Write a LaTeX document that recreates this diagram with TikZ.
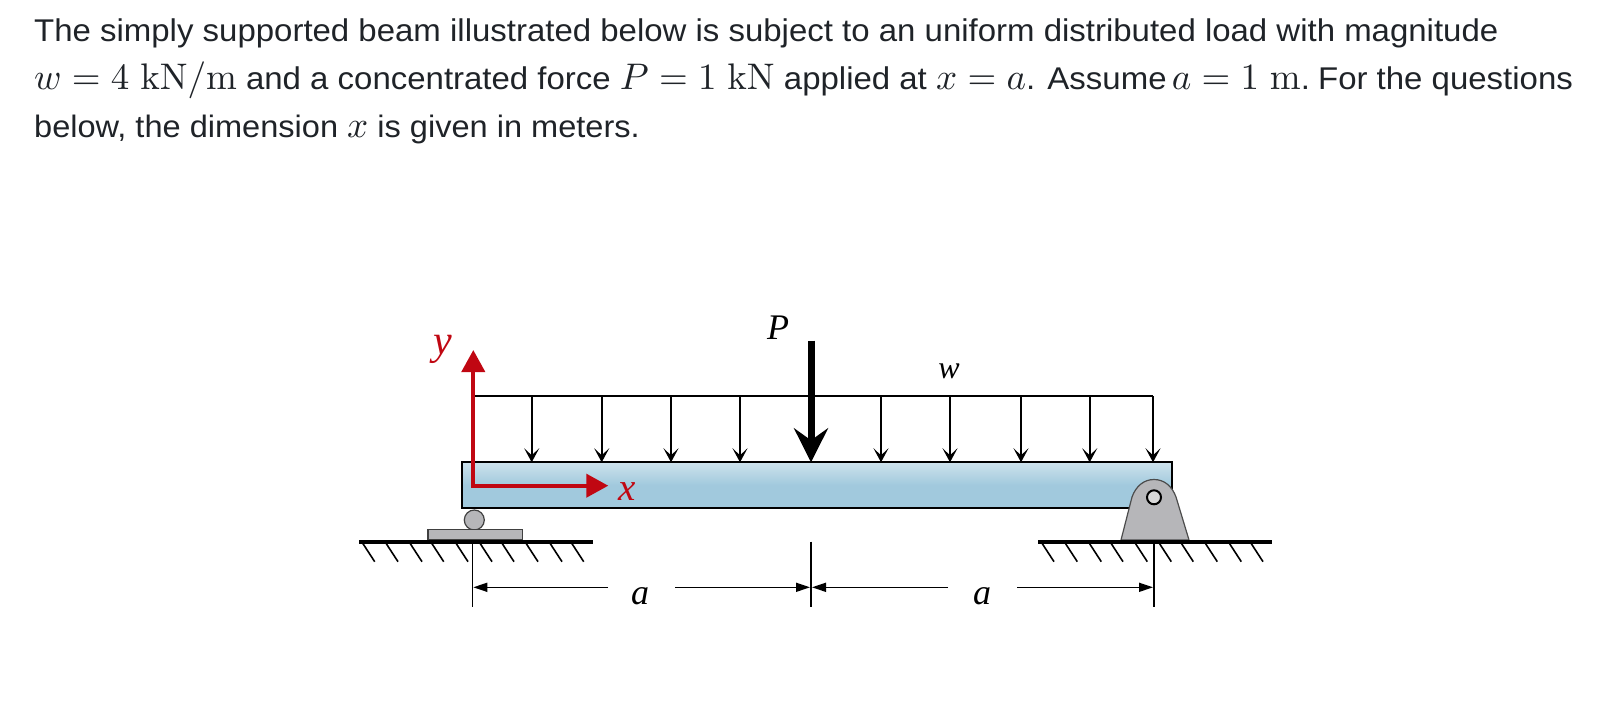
\documentclass[tikz,border=0pt]{standalone}
\usepackage[no-math]{fontspec}
\setmainfont[FakeStretch=1.05]{Liberation Sans}
\newfontfamily\figfont[ItalicFont=Liberation Serif Italic]{Liberation Serif}
\usetikzlibrary{arrows.meta}
\newcommand*{\gndy  }{541.7}
\newcommand*{\beamtp}{462.3}
\newcommand*{\beambt}{508.3}
\newcommand*{\dimy  }{587.3}
\newcommand*{\mth}[1]{\scalebox{3.7}{\fontsize{10}{12}\selectfont$#1$}}
\definecolor{axisred}{HTML}{C00712}
\definecolor{supgray}{HTML}{B6B6B9}
\definecolor{beamtop}{HTML}{CDE2EC}
\definecolor{beamlow}{HTML}{A1C9DD}
\definecolor{textcol}{HTML}{1F2328}
\tikzset{
    para/.style   = {anchor=base west, inner sep=0pt, text=textcol, font=\fontsize{31.4}{35}\selectfont},
    figlbl/.style = {inner sep=0pt, font=\fontsize{36}{40}\selectfont\figfont\itshape},
    load/.style   = {line width=1.9pt, -{Stealth[length=14pt,width=15pt,inset=7pt]}},
    dimen/.style  = {line width=1.6pt, -{Stealth[length=14pt,width=9pt,inset=0pt]}, shorten >=1pt},
    axis/.style   = {color=axisred, line width=4pt, -{Stealth[length=22pt,width=23pt,inset=0pt]}}
}
\begin{document}
\begin{tikzpicture}[x=1pt,y=-1pt]
    \useasboundingbox (0,0) rectangle (1616,722);
    % text above the figure
    \node [para] (lineone) at (34,42) {The simply supported beam illustrated below is subject to an uniform distributed load with magnitude};
    \node [para] (linetwo) at (34,90) {\mth{w=4\ \mathrm{kN/m}} and a concentrated force \mth{P=1\ \mathrm{kN}} applied at \mth{x=a}. Assume\hspace{-4pt} \mth{a=1\ \mathrm{m}}.\hspace{-4pt} For the questions};
    \node [para, font=\fontsize{31}{35}\selectfont] (linethr) at (34,138) {below, the dimension \mth{x} is given in meters.};
    % beam
    \shade [top color=beamtop, bottom color=beamlow, middle color=beamlow] (461.7,\beamtp) rectangle (1171.7,\beambt);
    \draw [line width=2pt] (461.7,\beamtp) rectangle (1171.7,\beambt);
    % distributed load
    \draw [line width=1.9pt] (473,396) -- (1153,396);
    \foreach \xl in {531.7,601.7,671,740,881,950,1021,1089.7,1153} {
        \draw [load] (\xl,396) -- (\xl,\beamtp);
    }
    % point load
    \draw [line width=7pt, -{Stealth[length=34pt,width=34pt,inset=12pt]}] (811,340.7) -- (811,\beamtp);
    % axes
    \draw [axis, line cap=butt] (473.3,487.7) -- (473.3,350);
    \draw [axis] (471.3,485.7) -- (608.3,485.7);
    % roller
    \filldraw [fill=supgray, draw=black!75, line width=1.2pt] (474.3,520) circle (10);
    \filldraw [fill=supgray, draw=black!75, line width=1.2pt] (428,529.3) rectangle (522.3,540);
    % pin
    \filldraw [fill=supgray, draw=black!70, line width=1.2pt] (1121,540) -- (1132,497) .. controls (1136,486) and (1144,479.5) .. (1154,479.5) .. controls (1164,479.5) and (1172,486) .. (1176,497) -- (1189,540) -- cycle;
    \filldraw [fill=black!15, draw=black, line width=2pt] (1154,497.3) circle (7);
    % ground
    \foreach \gx/\gxa in {359/593,1038.3/1272} {
        \draw [line width=4pt] (\gx,\gndy) -- (\gxa,\gndy);
        \foreach \hx in {2.7,26,50,71.7,96,120,142,166,190,211.7} {
            \draw [line width=1.6pt] (\gx+\hx,\gndy) -- ++(13,20);
        }
    }
    % dimensions
    \foreach \tx in {472.3,811,1154} {
        \draw [line width=1.6pt] (\tx,\gndy) -- (\tx,607);
    }
    \node [figlbl] (dimaa) at (640,596) {a};
    \node [figlbl] (dimab) at (982,596) {a};
    \coordinate (dimleft)  at (472.3,\dimy);
    \coordinate (dimmid)   at (811,\dimy);
    \coordinate (dimright) at (1154,\dimy);
    \draw [dimen] (608,\dimy) -- (dimleft);
    \draw [dimen] (675,\dimy) -- (dimmid);
    \draw [dimen] (948,\dimy) -- (dimmid);
    \draw [dimen] (1017,\dimy) -- (dimright);
    % labels
    \node [figlbl] (lblp) at (778,328) {P};
    \node [figlbl, font=\fontsize{32}{36}\selectfont\figfont\itshape] (lblw) at (949,371) {w};
    \node [figlbl, text=axisred, font=\fontsize{42}{44}\selectfont\figfont\itshape] (lbly) at (443,349) {y};
    \node [figlbl, text=axisred, font=\fontsize{39}{42}\selectfont\figfont\itshape] (lblx) at (627,492) {x};
\end{tikzpicture}
\end{document}
